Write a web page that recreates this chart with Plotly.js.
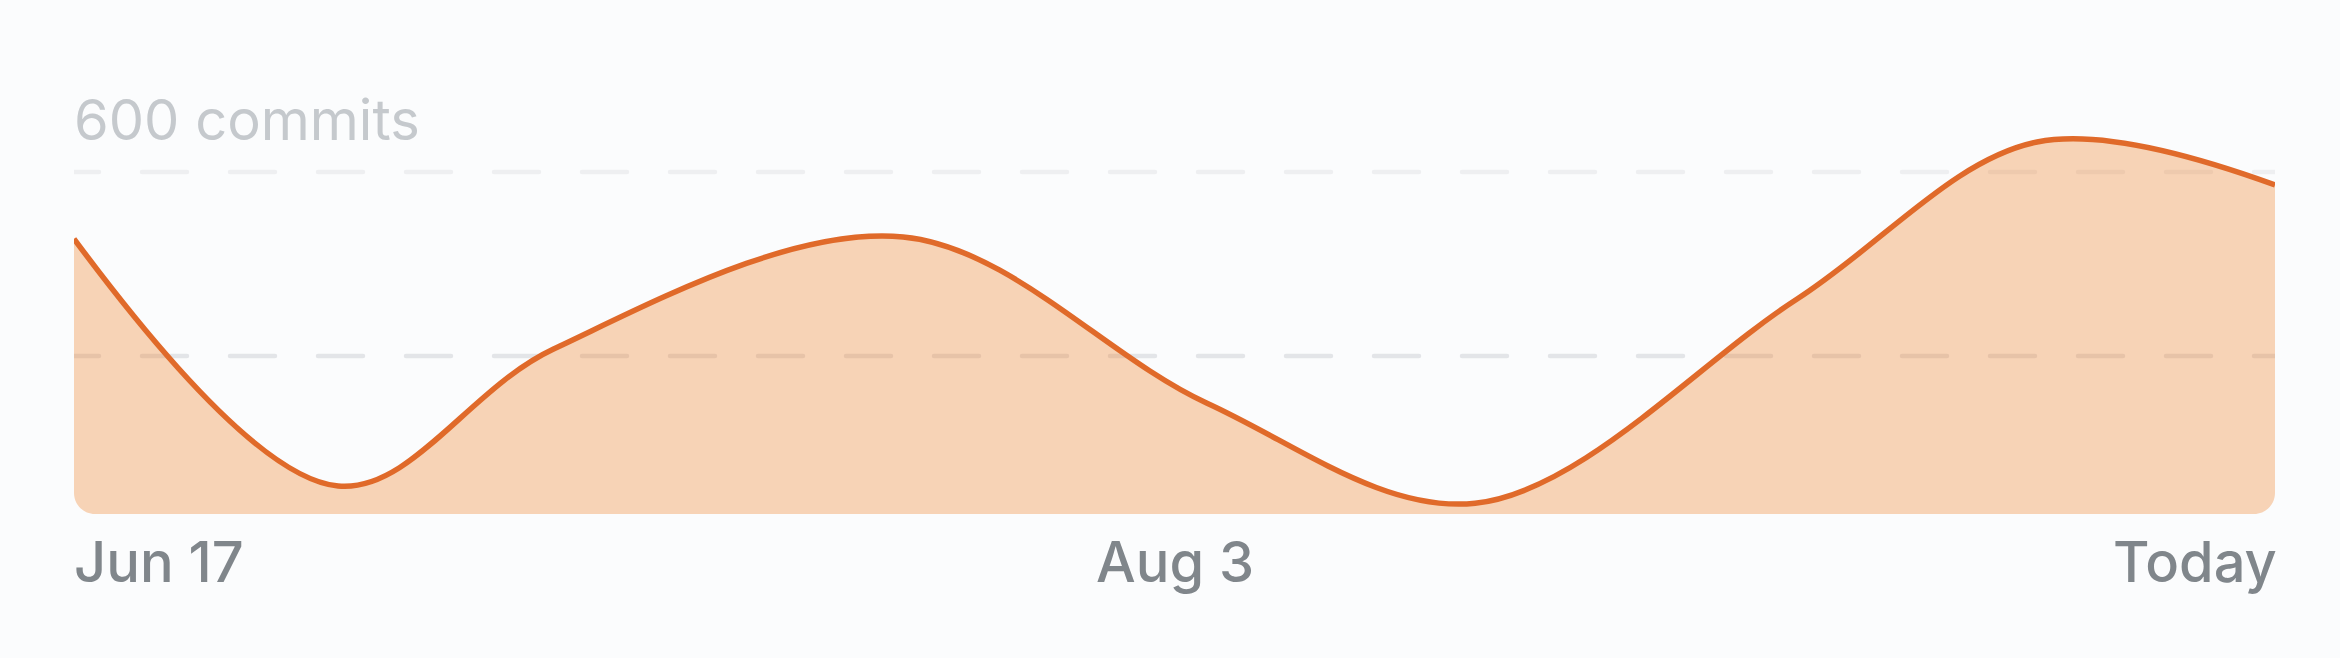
<!DOCTYPE html>
<html>
<head>
<meta charset="utf-8">
<script src="https://cdn.plot.ly/plotly-3.0.1.min.js"></script>
<style>
  html, body { margin: 0; padding: 0; background: #FBFCFD; }
  #chart { width: 2340px; height: 658px; }
  .shapelayer path { stroke-linecap: round; }
</style>
</head>
<body>
<div id="chart"></div>
<script>
// ---- data ----
const dayOffsets = [0, 11.28, 20.46, 35.41, 48.39, 59.84, 73.59, 83.84, 94];   // days since Jun 17
const commits    = [491, 88, 311, 494, 223, 60, 393, 649, 579];
const tickDays   = [0, 47, 94];
const tickLabels = ["Jun 17", "Aug 3", "Today"];
const gridValues = [600, 300];
const gridColors = ["#EEEFF1", "#E3E5E8"];
const headerLabel = "600 commits";

// ---- styling ----
const bg = "#FBFCFD";
const lineColor = "#E06A2A";
const fillColor = "rgba(240,128,40,0.33)";
const xRange = [0, 94];
const yRange = [42.4, 717.4];
const cornerR = 21;
const k = 0.4477;

const trace = {
  x: dayOffsets,
  y: commits,
  type: "scatter",
  mode: "lines",
  line: { color: lineColor, width: 5.5, shape: "spline", smoothing: 1.0 },
  fill: "tozeroy",
  fillcolor: fillColor,
  hoverinfo: "skip"
};

const shapes = gridValues.map((v, i) => ({
  type: "line", layer: "below", xref: "x", yref: "y",
  x0: -0.854, x1: xRange[1] + 2, y0: v, y1: v,
  line: { color: gridColors[i], width: 4.5, dash: "45px,43px" }
}));
// rounded bottom corners of the area
shapes.push({
  type: "path", layer: "above", xref: "paper", yref: "paper",
  xsizemode: "pixel", ysizemode: "pixel", xanchor: 0, yanchor: 0,
  path: `M-2,-2 L-2,${cornerR} L0,${cornerR} C0,${cornerR*k} ${cornerR*k},0 ${cornerR},0 L${cornerR},-2 Z`,
  fillcolor: bg, line: { width: 0 }
});
shapes.push({
  type: "path", layer: "above", xref: "paper", yref: "paper",
  xsizemode: "pixel", ysizemode: "pixel", xanchor: 1, yanchor: 0,
  path: `M2,-2 L2,${cornerR} L0,${cornerR} C0,${cornerR*k} ${-cornerR*k},0 ${-cornerR},0 L${-cornerR},-2 Z`,
  fillcolor: bg, line: { width: 0 }
});

const anchors = ["left", "center", "right"];
const shifts = [-2, 0, 4];
const annotations = tickLabels.map((t, i) => ({
  text: t, xref: "x", yref: "paper", x: tickDays[i], y: -0.115,
  xanchor: anchors[i], yanchor: "middle", xshift: shifts[i],
  showarrow: false,
  font: { family: "Inter, 'Noto Sans', sans-serif", size: 56, color: "#80868B", weight: 500 }
}));
annotations.push({
  text: headerLabel, xref: "paper", yref: "paper", x: 0, y: 0.951,
  xanchor: "left", yanchor: "middle", xshift: -2, showarrow: false,
  font: { family: "Inter, 'Noto Sans', sans-serif", size: 56, color: "#C5C9CD", weight: 400 }
});

const layout = {
  width: 2340, height: 658,
  paper_bgcolor: bg, plot_bgcolor: bg,
  margin: { l: 74, r: 65, t: 100, b: 144 },
  showlegend: false,
  hovermode: false,
  xaxis: { range: xRange, showgrid: false, zeroline: false, showticklabels: false, ticks: "", showline: false, fixedrange: true },
  yaxis: { range: yRange, showgrid: false, zeroline: false, showticklabels: false, ticks: "", showline: false, fixedrange: true },
  shapes: shapes,
  annotations: annotations
};

Plotly.newPlot("chart", [trace], layout, { displayModeBar: false, staticPlot: true });
</script>
</body>
</html>
